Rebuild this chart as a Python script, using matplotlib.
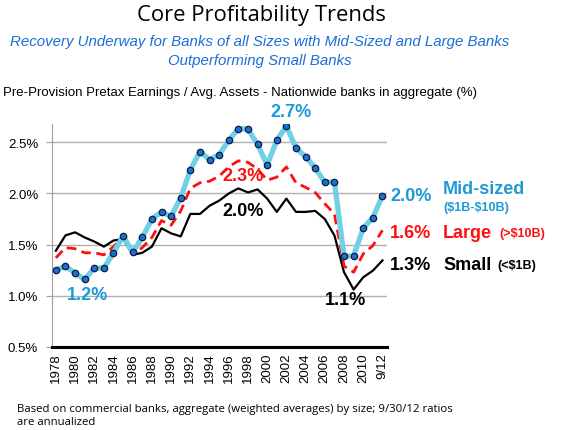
import matplotlib.pyplot as plt

years = [str(y) for y in range(1978, 2012)] + ["9/12"]
tick_labels = [str(y) for y in range(1978, 2011, 2)] + ["9/12"]

mid_sized = [1.25, 1.29, 1.22, 1.16, 1.27, 1.27, 1.42, 1.585, 1.425, 1.57,
             1.75, 1.82, 1.775, 1.96, 2.23, 2.41, 2.33, 2.38, 2.52, 2.635,
             2.63, 2.48, 2.28, 2.52, 2.66, 2.445, 2.36, 2.25, 2.11, 2.115,
             1.385, 1.39, 1.66, 1.765, 1.975]
large = [1.37, 1.47, 1.46, 1.42, 1.42, 1.40, 1.48, 1.57, 1.41, 1.47,
         1.57, 1.735, 1.69, 1.83, 2.05, 2.105, 2.12, 2.17, 2.26, 2.32,
         2.305, 2.24, 2.13, 2.16, 2.26, 2.105, 2.06, 2.01, 1.90, 1.80,
         1.29, 1.23, 1.41, 1.49, 1.64]
small = [1.44, 1.59, 1.62, 1.57, 1.53, 1.48, 1.54, 1.555, 1.40, 1.42,
         1.48, 1.66, 1.61, 1.58, 1.80, 1.80, 1.88, 1.93, 2.00, 2.05,
         2.01, 2.04, 1.95, 1.82, 1.95, 1.82, 1.82, 1.83, 1.75, 1.59,
         1.23, 1.06, 1.18, 1.245, 1.345]

BLUE_TXT = "#1E9AD6"
BLUE_LINE = "#70D0E8"
RED = "#FF1010"

fig = plt.figure(figsize=(5.76, 4.31), dpi=100)
ax = fig.add_axes([0.0903, 0.193, 0.582, 0.517])

x = list(range(len(years)))
ax.plot(x, small, color="black", lw=1.6, zorder=3)
ax.plot(x, large, color=RED, lw=2.0, ls=(0, (3.5, 2)), zorder=4)
ax.plot(x, mid_sized, color=BLUE_LINE, lw=3.8, zorder=5,
        marker="o", markersize=4.6, markerfacecolor="#1F6FD0",
        markeredgecolor="#0A1E40", markeredgewidth=0.9)

ax.set_xlim(-0.4, 34.5)
ax.set_ylim(0.5, 2.68)
ax.set_yticks([0.5, 1.0, 1.5, 2.0, 2.5])
ax.set_yticklabels(["0.5%", "1.0%", "1.5%", "2.0%", "2.5%"], fontsize=9.5,
                   family="Liberation Sans")
tick_pos = list(range(0, 33, 2)) + [34]
ax.set_xticks(tick_pos)
ax.set_xticklabels(tick_labels, rotation=90, fontsize=9.5, family="Liberation Sans")
ax.tick_params(axis="x", length=0, pad=4)
ax.tick_params(axis="y", length=4, color="#A0A0A0", pad=6)
ax.grid(axis="y", color="#B0B0B0", lw=1)
ax.set_axisbelow(True)
for s in ["top", "right"]:
    ax.spines[s].set_visible(False)
ax.spines["left"].set_color("#A0A0A0")
ax.spines["bottom"].set_color("black")
ax.spines["bottom"].set_linewidth(2.2)

# annotations on the lines
ann = dict(fontsize=13, fontweight="bold", family="Liberation Sans",
           ha="center", va="center")
ax.annotate("2.7%", (24, 2.66), xytext=(291, 431 - 113), textcoords="figure pixels",
            color=BLUE_TXT, **ann)
ax.annotate("2.3%", (19, 2.32), xytext=(243, 431 - 177), textcoords="figure pixels",
            color=RED, **ann)
ax.annotate("2.0%", (18, 2.0), xytext=(243, 431 - 212), textcoords="figure pixels",
            color="black", **ann)
ax.annotate("1.2%", (3, 1.16), xytext=(88, 431 - 296), textcoords="figure pixels",
            color=BLUE_TXT, **ann)
ax.annotate("1.1%", (31, 1.06), xytext=(346, 431 - 301), textcoords="figure pixels",
            color="black", **ann)

# right-hand labels
side = dict(fontsize=13, fontweight="bold", family="Liberation Sans", va="center")
sub = dict(fontsize=9, fontweight="bold", family="Liberation Sans", va="center")
fig.text(390 / 576, 1 - 197 / 431, "2.0%", color=BLUE_TXT, **side)
fig.text(443 / 576, 1 - 190 / 431, "Mid-sized", color=BLUE_TXT, **side)
fig.text(443 / 576, 1 - 208 / 431, "(\\$1B-\\$10B)", color=BLUE_TXT, **sub)
fig.text(390 / 576, 1 - 233 / 431, "1.6%", color=RED, **side)
fig.text(443 / 576, 1 - 233 / 431, "Large", color=RED, **side)
fig.text(499 / 576, 1 - 234 / 431, "(>\\$10B)", color=RED, **sub)
fig.text(390 / 576, 1 - 265 / 431, "1.3%", color="black", **side)
fig.text(443 / 576, 1 - 265 / 431, "Small", color="black", **side)
fig.text(497 / 576, 1 - 266 / 431, "(<\\$1B)", color="black", **sub)

# titles
fig.text(261 / 576, 1 - 16 / 431, "Core Profitability Trends", fontsize=15.8,
         family="Open Sans", ha="center", va="center")
fig.text(260 / 576, 1 - 42 / 431,
         "Recovery Underway for Banks of all Sizes with Mid-Sized and Large Banks",
         fontsize=10.8, style="italic", color="#1A6ED8", family="Liberation Sans",
         ha="center", va="center")
fig.text(260 / 576, 1 - 61 / 431, "Outperforming Small Banks",
         fontsize=10.8, style="italic", color="#1A6ED8", family="Liberation Sans",
         ha="center", va="center")
fig.text(3 / 576, 1 - 93 / 431,
         "Pre-Provision Pretax Earnings / Avg. Assets - Nationwide banks in aggregate (%)",
         fontsize=9.5, family="Liberation Sans", ha="left", va="center")

fig.text(17 / 576, 1 - 410 / 431,
         "Based on commercial banks, aggregate (weighted averages) by size; 9/30/12 ratios",
         fontsize=8.2, family="Open Sans", ha="left", va="center")
fig.text(17 / 576, 1 - 423 / 431, "are annualized",
         fontsize=8.2, family="Open Sans", ha="left", va="center")

fig.savefig("out.png", dpi=100)
